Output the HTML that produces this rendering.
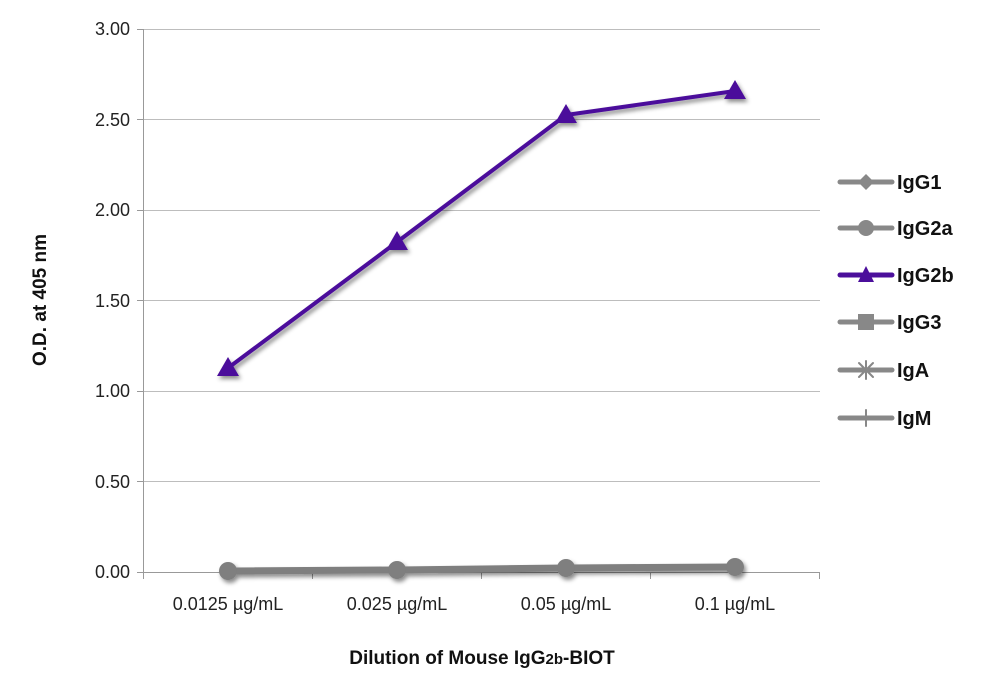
<!DOCTYPE html>
<html><head><meta charset="utf-8"><style>body{margin:0;background:#fff}svg{display:block}text{font-family:"Liberation Sans",sans-serif}</style></head><body>
<svg width="1000" height="685" viewBox="0 0 1000 685">
<defs><filter id="sh" x="-50%" y="-50%" width="200%" height="200%"><feDropShadow dx="2" dy="3" stdDeviation="2" flood-color="#000" flood-opacity="0.45"/></filter></defs>
<g stroke="#bdbdbd" stroke-width="1">
<line x1="143" y1="29.5" x2="820" y2="29.5"/><line x1="143" y1="119.5" x2="820" y2="119.5"/><line x1="143" y1="210.5" x2="820" y2="210.5"/><line x1="143" y1="300.5" x2="820" y2="300.5"/><line x1="143" y1="391.5" x2="820" y2="391.5"/><line x1="143" y1="481.5" x2="820" y2="481.5"/>
</g>
<g stroke="#999" stroke-width="1">
<line x1="143.5" y1="29" x2="143.5" y2="572"/><line x1="137" y1="572.5" x2="820" y2="572.5"/>
<line x1="137" y1="29.5" x2="143" y2="29.5"/><line x1="137" y1="119.5" x2="143" y2="119.5"/><line x1="137" y1="210.5" x2="143" y2="210.5"/><line x1="137" y1="300.5" x2="143" y2="300.5"/><line x1="137" y1="391.5" x2="143" y2="391.5"/><line x1="137" y1="481.5" x2="143" y2="481.5"/>
<line x1="312.5" y1="572" x2="312.5" y2="579"/><line x1="481.5" y1="572" x2="481.5" y2="579"/><line x1="650.5" y1="572" x2="650.5" y2="579"/><line x1="819.5" y1="572" x2="819.5" y2="579"/><line x1="143.5" y1="572" x2="143.5" y2="579"/>
</g>
<g font-size="18" fill="#222" text-anchor="end">
<text x="130" y="35">3.00</text><text x="130" y="126">2.50</text><text x="130" y="216">2.00</text><text x="130" y="307">1.50</text><text x="130" y="397">1.00</text><text x="130" y="488">0.50</text><text x="130" y="578">0.00</text>
</g>
<g font-size="18" fill="#222" text-anchor="middle">
<text x="228" y="610">0.0125 µg/mL</text><text x="397" y="610">0.025 µg/mL</text><text x="566" y="610">0.05 µg/mL</text><text x="735" y="610">0.1 µg/mL</text>
</g>
<text x="482" y="664" font-size="19" font-weight="bold" text-anchor="middle" fill="#111">Dilution of Mouse IgG<tspan font-size="15">2b</tspan>-BIOT</text>
<text transform="translate(46,300) rotate(-90)" font-size="19" font-weight="bold" text-anchor="middle" fill="#111">O.D. at 405 nm</text>
<g filter="url(#sh)">
<polyline points="228,571 397,570 566,568 735,567" fill="none" stroke="#7f7f7f" stroke-width="7" stroke-linejoin="round"/>
<g fill="#7f7f7f"><circle cx="228" cy="571" r="9"/><circle cx="397" cy="570" r="9"/><circle cx="566" cy="568" r="9"/><circle cx="735" cy="567" r="9"/></g>
<polyline points="228,368 397,242 566,115 735,91" fill="none" stroke="#4b0f9b" stroke-width="4" stroke-linejoin="round"/>
<g fill="#4b0f9b"><polygon points="228,357 239,376 217,376"/><polygon points="397,231 408,250 386,250"/><polygon points="566,104 577,123 555,123"/><polygon points="735,80 746,99 724,99"/></g>
</g>
<g stroke-width="5" stroke-linecap="round">
<line x1="840" y1="182" x2="892" y2="182" stroke="#888"/><polygon points="866,174 874,182 866,190 858,182" fill="#888"/>
<line x1="840" y1="228" x2="892" y2="228" stroke="#888"/><circle cx="866" cy="228" r="8" fill="#888"/>
<line x1="840" y1="275" x2="892" y2="275" stroke="#4b0f9b"/><polygon points="866,266 874,282 858,282" fill="#4b0f9b"/>
<line x1="840" y1="322" x2="892" y2="322" stroke="#888"/><rect x="858" y="314" width="16" height="16" fill="#888"/>
<line x1="840" y1="370" x2="892" y2="370" stroke="#888"/>
<g stroke="#888" stroke-width="2"><line x1="859" y1="363" x2="873" y2="377"/><line x1="873" y1="363" x2="859" y2="377"/><line x1="866" y1="361" x2="866" y2="379"/></g>
<line x1="840" y1="418" x2="892" y2="418" stroke="#888"/><line x1="866" y1="410" x2="866" y2="426" stroke="#888" stroke-width="2"/>
</g>
<g font-size="20" font-weight="bold" fill="#111">
<text x="897" y="189">IgG1</text><text x="897" y="235">IgG2a</text><text x="897" y="282">IgG2b</text><text x="897" y="329">IgG3</text><text x="897" y="377">IgA</text><text x="897" y="425">IgM</text>
</g>
</svg>
</body></html>
